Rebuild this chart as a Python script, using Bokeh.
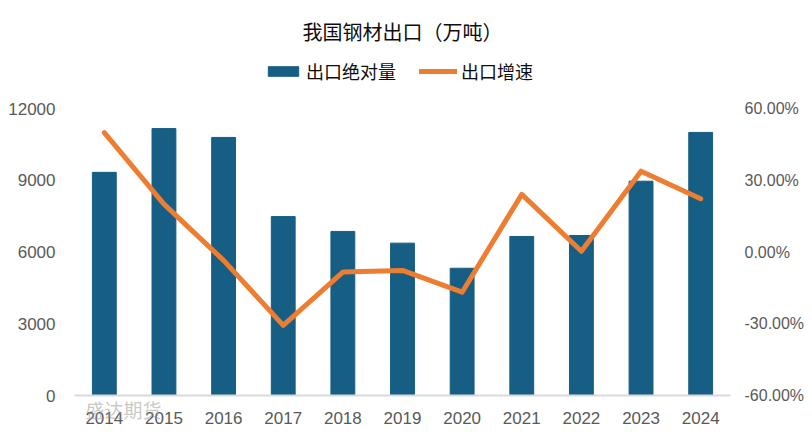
from bokeh.plotting import figure
from bokeh.models import (Range1d, LinearAxis, FixedTicker, NumeralTickFormatter,
                          Legend, LegendItem, FactorRange, Title)
from bokeh.embed import file_html
from bokeh.resources import INLINE

years = ["2014", "2015", "2016", "2017", "2018", "2019", "2020", "2021", "2022", "2023", "2024"]
export_volume = [9330, 11160, 10790, 7480, 6860, 6370, 5320, 6650, 6690, 8960, 11000]
export_growth = [0.499, 0.200, -0.035, -0.307, -0.084, -0.077, -0.168, 0.241, 0.003, 0.338, 0.223]
left_ticks = [0, 3000, 6000, 9000, 12000]
right_ticks = [-0.6, -0.3, 0.0, 0.3, 0.6]

BAR = "#165E83"
LINE = "#ED7D31"
GRAY = "#595959"
CJK = "Noto Sans CJK SC"
NUM = "Liberation Sans"

W, H = 812, 438
FRAME_LEFT, FRAME_RIGHT = 74, 730
FRAME_TOP, TICK_TOP, FRAME_BOTTOM = 50, 108, 395
scale = (FRAME_BOTTOM - FRAME_TOP) / (FRAME_BOTTOM - TICK_TOP)
left_max = 12000 * scale
pct_max = -0.6 + 1.2 * scale

p = figure(width=W, height=H, x_range=FactorRange(*years), y_range=Range1d(0, left_max),
           output_backend="svg", toolbar_location=None,
           min_border_left=FRAME_LEFT, min_border_right=W - FRAME_RIGHT,
           min_border_bottom=H - FRAME_BOTTOM, min_border_top=FRAME_TOP)
p.outline_line_color = None
p.xgrid.grid_line_color = None
p.ygrid.grid_line_color = None
p.background_fill_color = "white"
p.border_fill_color = "white"

p.title.text = "我国钢材出口（万吨）"
p.title.align = "center"
p.title.text_font = CJK
p.title.text_font_size = "20px"
p.title.text_font_style = "normal"
p.title.text_color = "#0D0D0D"
p.title.offset = 27
p.title.standoff = 9

p.extra_y_ranges = {"pct": Range1d(-0.6, pct_max)}

bars = p.vbar(x=years, top=export_volume, width=0.4, color=BAR)
line = p.line(x=years, y=export_growth, y_range_name="pct", color=LINE, line_width=5,
              line_join="round", line_cap="round")

xa = p.xaxis[0]
xa.axis_line_color = "#D9D9D9"
xa.axis_line_width = 2
xa.major_tick_line_color = None
xa.minor_tick_line_color = None
xa.major_label_text_font = NUM
xa.major_label_text_font_size = "17px"
xa.major_label_text_color = GRAY
xa.major_label_standoff = 10

ya = p.yaxis[0]
ya.ticker = FixedTicker(ticks=left_ticks)
ya.axis_line_color = None
ya.major_tick_line_color = None
ya.minor_tick_line_color = None
ya.major_label_text_font = NUM
ya.major_label_text_font_size = "17px"
ya.major_label_text_color = GRAY
ya.major_label_standoff = 13

ra = LinearAxis(y_range_name="pct", ticker=FixedTicker(ticks=right_ticks),
                formatter=NumeralTickFormatter(format="0.00%"))
ra.axis_line_color = None
ra.major_tick_line_color = None
ra.minor_tick_line_color = None
ra.major_label_text_font = NUM
ra.major_label_text_font_size = "16px"
ra.major_label_text_color = GRAY
ra.major_label_standoff = 8
p.add_layout(ra, "right")

legend = Legend(items=[LegendItem(label="出口绝对量", renderers=[bars]),
                       LegendItem(label="出口增速", renderers=[line])],
                orientation="horizontal", location=(190, 311),
                label_text_font=CJK, label_text_font_size="18px", label_text_color="#0D0D0D",
                glyph_width=38, glyph_height=12, spacing=23, label_standoff=4,
                border_line_color=None, background_fill_alpha=0, margin=0, padding=6)
p.add_layout(legend)

# faint company watermark under the first x labels
wm = Title(text="盛达期货", align="left", offset=11, standoff=-62, vertical_align="top",
           text_font=CJK, text_font_size="19px", text_font_style="normal",
           text_color="#9A9A9A", text_alpha=0.55)
p.add_layout(wm, "below")

open("out.html", "w").write(file_html(p, INLINE))
